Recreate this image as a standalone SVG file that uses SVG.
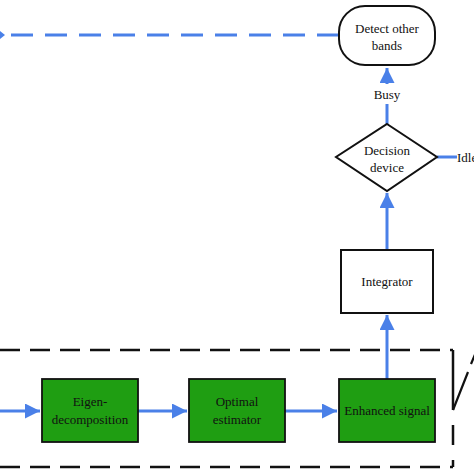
<svg xmlns="http://www.w3.org/2000/svg" width="474" height="474" viewBox="0 0 474 474">
<style>
.t{font-family:"Liberation Serif","Times New Roman",serif;font-size:13px;fill:#111;text-anchor:middle}
.g{fill:#1f9e12;stroke:#111;stroke-width:1.8}
.w{fill:#fff;stroke:#111;stroke-width:2}
.b{stroke:#4a80e8;stroke-width:3;fill:none}
.d{stroke:#111;stroke-width:2.5;fill:none;stroke-dasharray:20 10}
</style>
<defs>
<marker id="ah" markerWidth="5" markerHeight="5" refX="5" refY="2.5" orient="auto" markerUnits="strokeWidth">
<path d="M0,0 L5,2.5 L0,5 z" fill="#4a80e8"/>
</marker>
</defs>
<g id="region">
<path class="d" d="M0,350 H453"/>
<path class="d" d="M0,467 H453"/>
<path d="M453,350 V410" stroke="#111" stroke-width="2.5" fill="none"/>
<path d="M453,425 V445 M453,460 V467" stroke="#111" stroke-width="2.5" fill="none"/>
<path d="M453,410 L468,372 M471,364 L476,352" stroke="#111" stroke-width="2.2" fill="none"/>
</g>
<g id="connectors">
<path class="b" d="M339,35 H6" stroke-dasharray="22 12"/>
<path d="M0,31 L5,35 L0,39 z" fill="#4a80e8"/>
<path class="b" d="M0,411 H40" marker-end="url(#ah)"/>
<path class="b" d="M138,411 H187" marker-end="url(#ah)"/>
<path class="b" d="M285,411 H337" marker-end="url(#ah)"/>
<path class="b" d="M387,379 V315" marker-end="url(#ah)"/>
<path class="b" d="M387,250 V193" marker-end="url(#ah)"/>
<path class="b" d="M387,124 V104"/>
<path class="b" d="M387,84 V68" marker-end="url(#ah)"/>
<path class="b" d="M437,157 H457"/>
<text class="t" x="387" y="99">Busy</text>
<text class="t" x="457" y="162" style="text-anchor:start">Idle</text>
</g>
<g id="detect">
<rect class="w" x="339" y="6" width="96" height="59" rx="26" ry="26"/>
<text class="t" x="387" y="33">Detect other</text>
<text class="t" x="387" y="50">bands</text>
</g>
<g id="decision">
<path class="w" d="M387,124 L437,157 L387,191 L336,157 z"/>
<text class="t" x="387" y="155">Decision</text>
<text class="t" x="387" y="172">device</text>
</g>
<g id="integrator">
<rect class="w" x="341" y="250" width="92" height="63"/>
<text class="t" x="387" y="286">Integrator</text>
</g>
<g id="eigen">
<rect class="g" x="42" y="379" width="96" height="63"/>
<text class="t" x="90" y="406">Eigen-</text>
<text class="t" x="90" y="424">decomposition</text>
</g>
<g id="optimal">
<rect class="g" x="189" y="379" width="96" height="63"/>
<text class="t" x="237" y="406">Optimal</text>
<text class="t" x="237" y="424">estimator</text>
</g>
<g id="enhanced">
<rect class="g" x="339" y="379" width="96" height="63"/>
<text class="t" x="387" y="415">Enhanced signal</text>
</g>
</svg>
